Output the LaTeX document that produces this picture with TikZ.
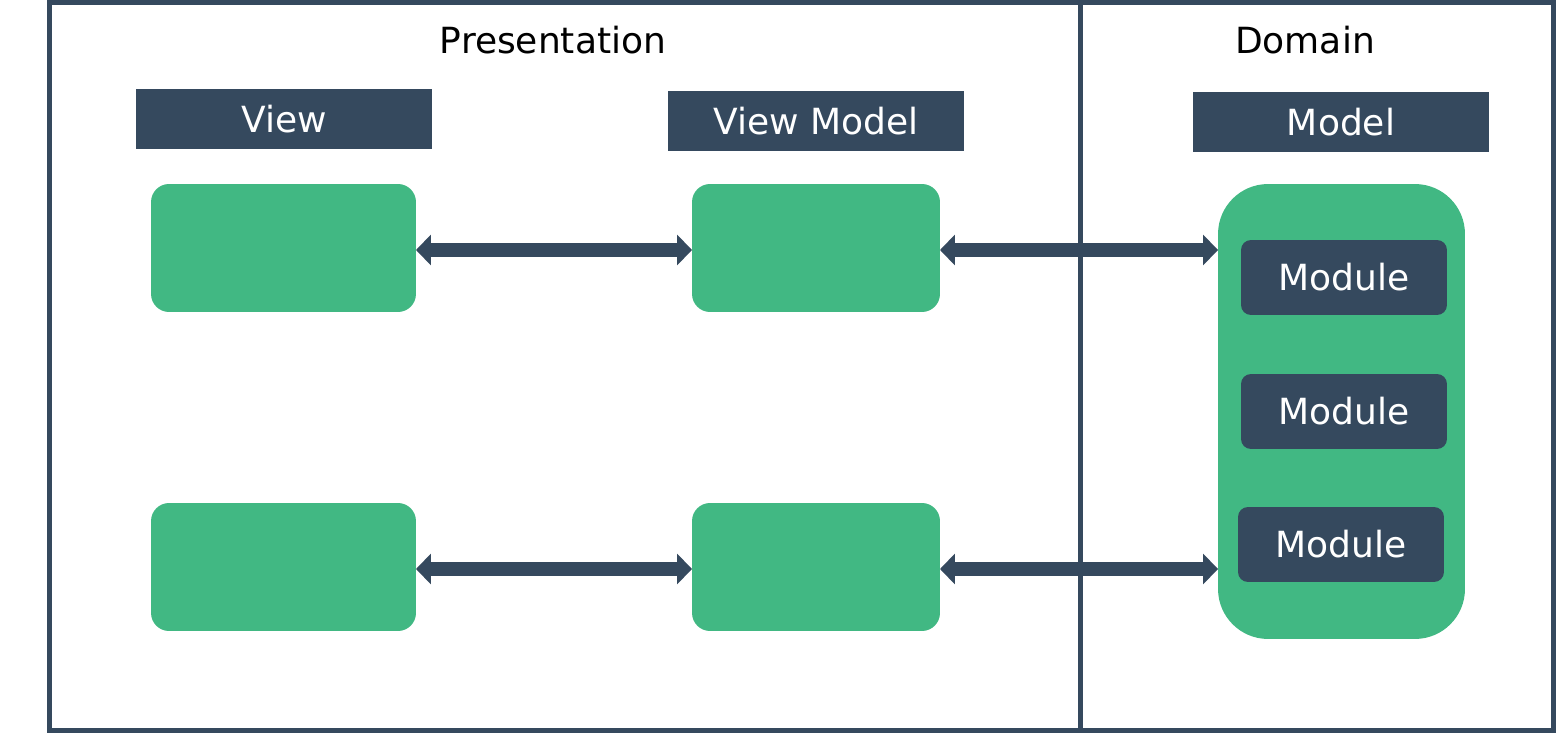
\documentclass[tikz,border=0pt]{standalone}
\usepackage{fontspec}
\setmainfont{DejaVu Sans}
\usetikzlibrary{arrows.meta}

\definecolor{vuedark}{HTML}{35495E}
\definecolor{vuegreen}{HTML}{41B883}

\tikzset{
    header/.style={fill=vuedark, text=white, inner sep=0pt, outer sep=0pt,
        minimum width=5.92cm, minimum height=1.2cm},
    block/.style={fill=vuegreen, rounded corners=0.36cm, inner sep=0pt, outer sep=0pt,
        minimum height=2.56cm},
    module/.style={fill=vuedark, text=white, rounded corners=0.2cm, inner sep=0pt,
        outer sep=0pt, minimum width=4.12cm, minimum height=1.5cm},
    link/.style={draw=vuedark, line width=0.28cm,
        {Triangle[length=0.3cm,width=0.6cm]}-{Triangle[length=0.3cm,width=0.6cm]}},
}

\begin{document}
\begin{tikzpicture}[x=0.02cm, y=-0.02cm, semithick, font=\fontsize{20.5}{24}\selectfont]
    \useasboundingbox (0,0) rectangle (1556,733);

    % frame and divider
    \draw[vuedark, line width=0.1cm] (49.5,2.5) rectangle (1553.5,730.5);
    \draw[vuedark, line width=0.1cm] (1080.5,2.5) -- (1080.5,730.5);

    % layer titles
    \node (presentation) at (553,40) {Presentation};
    \node (domain) at (1305,40) {Domain};

    % column headers
    \node[header] (viewhead) at (284,119) {View};
    \node[header] (vmhead) at (816,121) {View Model};
    \node[header] (modelhead) at (1341,122) {Model};

    % views
    \node[block, minimum width=5.3cm] (view1) at (283.5,248) {};
    \node[block, minimum width=5.3cm] (view2) at (283.5,567) {};

    % view models
    \node[block, minimum width=4.96cm] (vm1) at (816,248) {};
    \node[block, minimum width=4.96cm] (vm2) at (816,567) {};

    % model with modules
    \node[block, rounded corners=1cm, minimum width=4.94cm, minimum height=9.1cm]
        (model) at (1341.5,411.5) {};
    \node[module] (mod1) at (1344,277.5) {Module};
    \node[module] (mod2) at (1344,411.5) {Module};
    \node[module] (mod3) at (1341,544.5) {Module};

    % bindings
    \draw[link] (view1.east |- 0,250) -- (vm1.west |- 0,250);
    \draw[link] (vm1.east |- 0,250) -- (model.west |- 0,250);
    \draw[link] (view2.east |- 0,569) -- (vm2.west |- 0,569);
    \draw[link] (vm2.east |- 0,569) -- (model.west |- 0,569);
\end{tikzpicture}
\end{document}
